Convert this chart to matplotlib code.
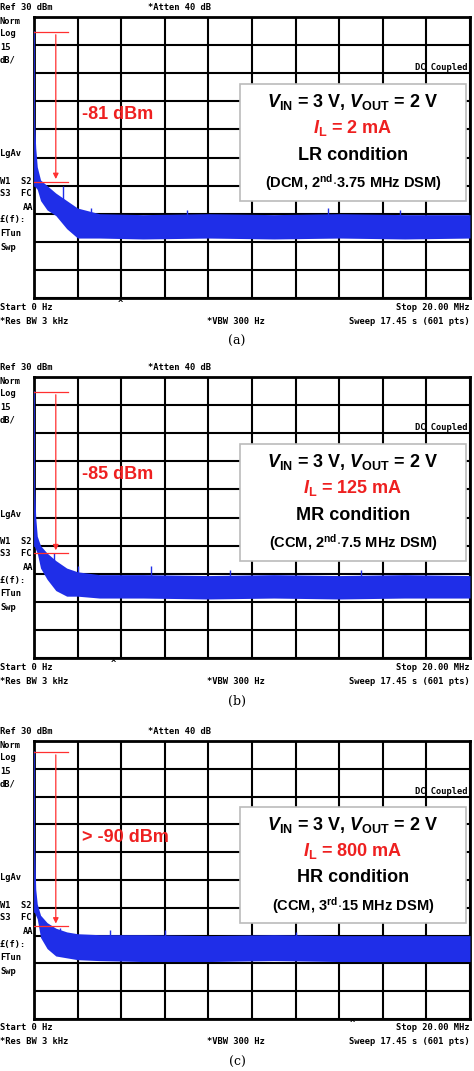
import matplotlib
matplotlib.use("Agg")
import matplotlib.pyplot as plt
import numpy as np

plt.rcParams['mathtext.fontset'] = 'custom'
plt.rcParams['mathtext.rm'] = 'Liberation Sans:bold'
plt.rcParams['mathtext.it'] = 'Liberation Sans:bold:italic'
plt.rcParams['mathtext.bf'] = 'Liberation Sans:bold'

W, H = 474, 1071
fig = plt.figure(figsize=(W/100, H/100), dpi=100)

# ---- data (dBm vs MHz) ----
labels = ["(a)", "(b)", "(c)"]
marker_text = ["-81 dBm", "-85 dBm", "> -90 dBm"]
marker_top = [22, 22, 24]
marker_bot = [-58, -64, -70]
cond_IL = ["2", "125", "800"]
cond_name = ["LR condition", "MR condition", "HR condition"]
cond_mode = [r"(DCM, 2$^{\rm nd}$$\cdot$3.75 MHz DSM)",
             r"(CCM, 2$^{\rm nd}$$\cdot$7.5 MHz DSM)",
             r"(CCM, 3$^{\rm rd}$$\cdot$15 MHz DSM)"]

up_f = [0, 0.03, 0.08, 0.15, 0.3, 0.6, 1.0, 1.5, 2.0, 3.0, 5.0, 8.0, 11.0, 14.0, 17.0, 20.0]
upper_a = [22, -27, -40, -50, -57, -60, -64, -68, -72, -75, -75.5, -75, -75.5, -75, -75.5, -75.5]
upper_b = [22, -30, -45, -55, -60, -64, -68, -72, -74, -75.5, -75.5, -76, -75.5, -76, -75.5, -76]
upper_c = [24, -28, -50, -58, -64, -68, -71, -73, -74, -74.5, -74.5, -75, -74.5, -75, -75, -75]
lo_f = [0, 0.15, 0.3, 0.6, 1.0, 1.5, 2.0, 3.0, 5.0, 8.0, 11.0, 14.0, 17.0, 20.0]
lower_a = [-60, -62, -68, -73, -76, -83, -88, -88, -88.5, -88, -88.5, -88, -88.5, -88]
lower_b = [-60, -64, -72, -78, -84, -87, -87, -88, -88, -88.5, -88, -88.5, -88, -88]
lower_c = [-62, -66, -76, -82, -86, -87, -88, -88.5, -89, -89, -88.5, -89, -89, -89]
spike_f_a = [1.35, 2.6, 7.0, 13.5, 16.8]
spike_v_a = [-60, -72, -73, -72, -73]
spike_f_b = [0.92, 2.0, 5.37, 9.0, 15.0]
spike_v_b = [-64, -71, -71, -73, -73]
spike_f_c = [1.2, 3.5, 6.0, 12.0]
spike_v_c = [-71, -72, -72, -73]
uppers = [upper_a, upper_b, upper_c]
lowers = [lower_a, lower_b, lower_c]
spikes = [(spike_f_a, spike_v_a), (spike_f_b, spike_v_b), (spike_f_c, spike_v_c)]

# panel geometry in pixels (axes top, bottom)
geo = [(17, 298), (377, 658), (741, 1019)]
caret_x = [120, 113, 352]
AX_L, AX_R = 34, 470

def fx(x): return x / W
def fy(y): return 1 - y / H

mono = dict(family="DejaVu Sans Mono", fontsize=6.3, fontweight="bold", color="black")
BLUE = "#1f2ee8"

for i in range(3):
    top, bot = geo[i]
    ax = fig.add_axes([fx(AX_L), fy(bot), fx(AX_R - AX_L), (bot - top) / H])
    ax.set_xlim(0, 20)
    ax.set_ylim(-120, 30)
    ax.set_xticks([k * 2 for k in range(11)])
    ax.set_yticks([30 - 15 * k for k in range(11)])
    ax.grid(True, color="black", lw=1.5)
    ax.tick_params(length=0, labelbottom=False, labelleft=False)
    for s in ax.spines.values():
        s.set_linewidth(2)
    ax.set_axisbelow(False)
    fgrid = sorted(set(up_f) | set(lo_f))
    u = np.interp(fgrid, up_f, uppers[i])
    l = np.interp(fgrid, lo_f, lowers[i])
    ax.fill_between(fgrid, l, u, color=BLUE, lw=0, zorder=3)
    ax.plot([0.02, 0.02], [lowers[i][0], uppers[i][0]], color=BLUE, lw=1.2, zorder=3)
    sf, sv = spikes[i]
    ax.vlines(sf, -76, sv, color=BLUE, lw=1.0, zorder=3)
    # marker
    ax.plot([0, 1.55], [marker_top[i]] * 2, color="#ff3030", lw=0.9, zorder=4)
    ax.plot([0, 1.55], [marker_bot[i]] * 2, color="#ff3030", lw=0.9, zorder=4)
    ax.annotate("", xy=(1.0, marker_bot[i]), xytext=(1.0, marker_top[i]),
                arrowprops=dict(arrowstyle="-|>", color="#ff3030", lw=0.9,
                                mutation_scale=8), zorder=4)
    ax.text(2.2, -22, marker_text[i], color="#ee2020", fontsize=13,
            fontweight="bold", family="Liberation Sans", va="center", zorder=5)
    ax.text(19.9, 3, "DC Coupled", ha="right", va="center", **mono)
    # condition box
    bx0, bx1 = (240 - AX_L) / 21.8, (466 - AX_L) / 21.8
    ax.add_patch(plt.Rectangle((bx0, 30 - 184 / 28.1 * 15), bx1 - bx0, 117 / 28.1 * 15,
                               facecolor="white", edgecolor="#bbbbbb", lw=1.2, zorder=6))
    cx = (bx0 + bx1) / 2
    def yv(p): return 30 - (p - 17) / 28.1 * 15
    tk = dict(ha="center", va="center", family="Liberation Sans", fontweight="bold", zorder=7)
    ax.text(cx, yv(102), r"$\it{V}_{\rm IN}$ = 3 V, $\it{V}_{\rm OUT}$ = 2 V", fontsize=13, **tk)
    ax.text(cx, yv(128), r"$\it{I}_{\rm L}$ = " + cond_IL[i] + " mA", fontsize=13, color="#ee2020", **tk)
    ax.text(cx, yv(155), cond_name[i], fontsize=13, **tk)
    ax.text(cx, yv(183), cond_mode[i], fontsize=10.5, **tk)

    # analyzer annotations
    o = top - 17
    fig.text(fx(0), fy(8 + o), "Ref 30 dBm", va="center", **mono)
    fig.text(fx(180), fy(8 + o), "*Atten 40 dB", va="center", ha="center", **mono)
    for t, y in [("Norm", 21), ("Log", 34), ("15", 47), ("dB/", 60), ("LgAv", 154),
                 ("W1  S2", 181), ("S3  FC", 194), ("£(f):", 220), ("FTun", 233), ("Swp", 247)]:
        fig.text(fx(0), fy(y + o), t, va="center", **mono)
    fig.text(fx(33), fy(207 + o), "AA", va="center", ha="right", **mono)
    fig.text(fx(caret_x[i]), fy(bot + 5), "^", va="center", ha="center", **mono)
    fig.text(fx(0), fy(bot + 9), "Start 0 Hz", va="center", **mono)
    fig.text(fx(0), fy(bot + 23), "*Res BW 3 kHz", va="center", **mono)
    fig.text(fx(236), fy(bot + 23), "*VBW 300 Hz", va="center", ha="center", **mono)
    fig.text(fx(470), fy(bot + 9), "Stop 20.00 MHz", va="center", ha="right", **mono)
    fig.text(fx(470), fy(bot + 23), "Sweep 17.45 s (601 pts)", va="center", ha="right", **mono)
    fig.text(fx(237), fy(bot + 43), labels[i], va="center", ha="center",
             family="DejaVu Serif", fontsize=9)

fig.savefig("out.png", dpi=100)
